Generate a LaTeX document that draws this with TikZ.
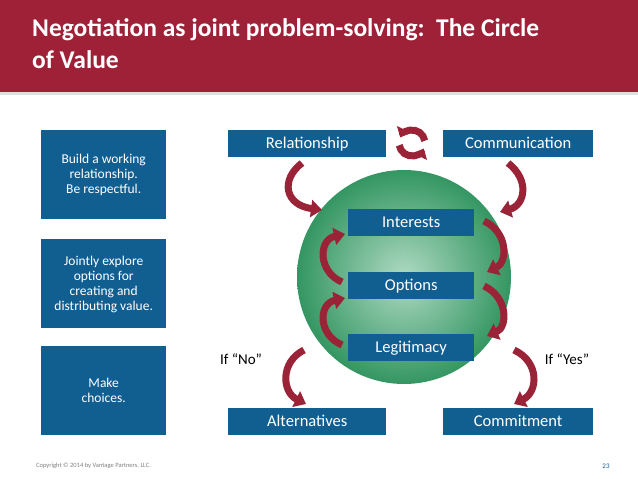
\documentclass[tikz,border=0pt]{standalone}
\usepackage{fontspec}
\setmainfont{Carlito}
\usetikzlibrary{arrows.meta}
\definecolor{hdr}{RGB}{158,33,56}
\definecolor{bx}{RGB}{17,94,145}
\definecolor{arr}{RGB}{155,35,55}
\tikzset{
 blue/.style={fill=bx,text=white,inner sep=0pt,anchor=north west,align=center,font=\fontsize{16.5}{18}\selectfont,text depth=1pt},
 lbox/.style={blue,minimum width=125pt,minimum height=89pt,font=\fontsize{13.5}{15}\selectfont},
 cur/.style={draw=arr,line width=7pt,-{Triangle[width=17pt,length=11pt]}},
 cyca/.style={draw=arr,line width=7pt,-{Triangle[width=15pt,length=9pt]}},
 lab/.style={font=\fontsize{15}{17}\selectfont}
}
\begin{document}
\begin{tikzpicture}[x=1pt,y=-1pt]
\useasboundingbox (0,0) rectangle (638,479);
\fill[white] (0,0) rectangle (638,479);
\fill[hdr] (0,0) rectangle (638,92);
\fill[gray!25] (0,92) rectangle (638,95);
\node[anchor=north west,text=white,font=\bfseries\fontsize{25.5}{32}\selectfont,align=left,inner sep=0pt] (title) at (32,18) {Negotiation as joint problem-solving:\ \ The Circle\\of Value};
\node[lbox] (b1) at (41,130) {Build a working\\relationship.\\Be respectful.};
\node[lbox] (b2) at (41,239) {Jointly explore\\options for\\creating and\\distributing value.};
\node[lbox] (b3) at (41,346) {Make\\choices.};
\shade[inner color={rgb,255:red,175;green,218;blue,195}, outer color={rgb,255:red,52;green,150;blue,98}] (404,277) circle (107);
\node[blue,minimum width=158pt,minimum height=27pt] (rel) at (228,130) {Relationship};
\node[blue,minimum width=150pt,minimum height=27pt] (com) at (443,130) {Communication};
\node[blue,minimum width=126pt,minimum height=27pt] (int) at (348,209) {Interests};
\node[blue,minimum width=126pt,minimum height=27pt] (opt) at (348,272) {Options};
\node[blue,minimum width=126pt,minimum height=27pt] (leg) at (348,334) {Legitimacy};
\node[blue,minimum width=158pt,minimum height=27pt] (alt) at (228,408) {Alternatives};
\node[blue,minimum width=150pt,minimum height=27pt] (cmt) at (443,408) {Commitment};
\coordinate (cyc) at (412,143);
\draw[cyca] ([shift={(170:13)}]cyc) arc[start angle=170,end angle=25,radius=13];
\draw[cyca] ([shift={(350:13)}]cyc) arc[start angle=350,end angle=205,radius=13];
\coordinate (a1s) at (302,163); \coordinate (a1e) at (322,210);
\draw[cur] (a1s) .. controls (280,180) and (285,205) .. (a1e);
\coordinate (a2s) at (508,163); \coordinate (a2e) at (500,212);
\draw[cur] (a2s) .. controls (530,180) and (525,205) .. (a2e);
\coordinate (a3s) at (484,221); \coordinate (a3e) at (487,272);
\draw[cur] (a3s) .. controls (508,232) and (508,262) .. (a3e);
\coordinate (a4s) at (484,286); \coordinate (a4e) at (487,336);
\draw[cur] (a4s) .. controls (508,297) and (508,327) .. (a4e);
\coordinate (a5s) at (342,282); \coordinate (a5e) at (345,234);
\draw[cur] (a5s) .. controls (318,272) and (318,240) .. (a5e);
\coordinate (a6s) at (342,345); \coordinate (a6e) at (345,298);
\draw[cur] (a6s) .. controls (318,335) and (318,304) .. (a6e);
\coordinate (a7s) at (304,350); \coordinate (a7e) at (306,404);
\draw[cur] (a7s) .. controls (280,362) and (282,392) .. (a7e);
\coordinate (a8s) at (514,350); \coordinate (a8e) at (514,404);
\draw[cur] (a8s) .. controls (540,362) and (538,392) .. (a8e);
\node[lab] (no) at (241,359) {If “No”};
\node[lab] (yes) at (567,359) {If “Yes”};
\node[anchor=west,text=gray,font=\fontsize{6.5}{7}\selectfont,inner sep=0pt] (copy) at (36,466) {Copyright © 2014 by Vantage Partners, LLC.};
\node[text=bx,font=\fontsize{7}{8}\selectfont,inner sep=0pt] (pg) at (606,466) {23};
\end{tikzpicture}
\end{document}
